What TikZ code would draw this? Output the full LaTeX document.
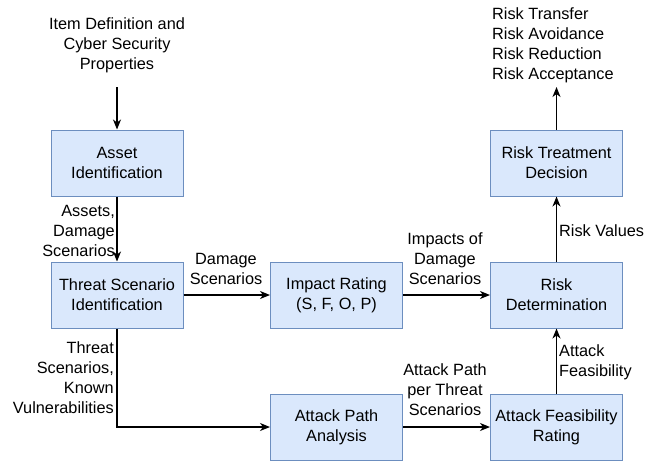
\documentclass[tikz,border=0pt]{standalone}
\usepackage{fontspec}
\setmainfont{Liberation Sans}
\usetikzlibrary{arrows.meta}
\definecolor{boxfill}{HTML}{DAE8FC}
\definecolor{boxdraw}{HTML}{6C8EBF}
\begin{document}
\begin{tikzpicture}[x=1pt,y=-1pt,
  every node/.style={font=\fontsize{16.3}{20}\selectfont},
  procbox/.style={draw=boxdraw, fill=boxfill, line width=1pt, minimum width=132pt, minimum height=66pt, align=center, inner sep=2pt},
  lbl/.style={align=center, inner sep=0pt},
  lblr/.style={align=right, inner sep=0pt, anchor=east},
  lbll/.style={align=left, inner sep=0pt, anchor=west},
  conn/.style={draw=black, line width=1.3pt, -{Stealth[length=10pt,width=8pt,inset=3pt]}}]
\useasboundingbox (0,0) rectangle (671,467);
\node[procbox] (asset) at (117,163) {Asset\\Identification};
\node[procbox] (threat) at (117,295) {Threat Scenario\\Identification};
\node[procbox] (impact) at (336.5,295) {Impact Rating\\(S, F, O, P)};
\node[procbox] (riskdet) at (556.5,295) {Risk\\Determination};
\node[procbox] (attpath) at (336.5,427) {Attack Path\\Analysis};
\node[procbox] (afr) at (556.5,427) {Attack Feasibility\\Rating};
\node[procbox] (rtd) at (556.5,163) {Risk Treatment\\Decision};

\node[lbl] (item) at (117,45) {Item Definition and\\Cyber Security\\Properties};
\node[lbll] (risklist) at (492,45) {Risk Transfer\\Risk Avoidance\\Risk Reduction\\Risk Acceptance};

\coordinate (itemend) at (117,87);
\coordinate (riskend) at (556.5,87);

\node[lblr] (lassets) at (115,231) {Assets,\\Damage\\Scenarios};
\node[lbl] (ldamage) at (226,269) {Damage\\Scenarios};
\node[lbl] (limpacts) at (445,259) {Impacts of\\Damage\\Scenarios};
\node[lbll] (lriskval) at (559,231) {Risk Values};
\node[lbll] (lattfeas) at (559,362) {Attack\\Feasibility};
\node[lbl] (lattpath) at (445,390) {Attack Path\\per Threat\\Scenarios};
\node[lblr] (lthreat) at (114,378) {Threat\\Scenarios,\\Known\\Vulnerabilities};

\draw[conn] (itemend) -- (asset.north);
\draw[conn] (asset.south) -- (threat.north);
\draw[conn] (threat.east) -- (impact.west);
\draw[conn] (impact.east) -- (riskdet.west);
\draw[conn] (threat.south) |- (attpath.west);
\draw[conn] (attpath.east) -- (afr.west);
\draw[conn] (afr.north) -- (riskdet.south);
\draw[conn] (riskdet.north) -- (rtd.south);
\draw[conn] (rtd.north) -- (riskend);
\end{tikzpicture}
\end{document}
